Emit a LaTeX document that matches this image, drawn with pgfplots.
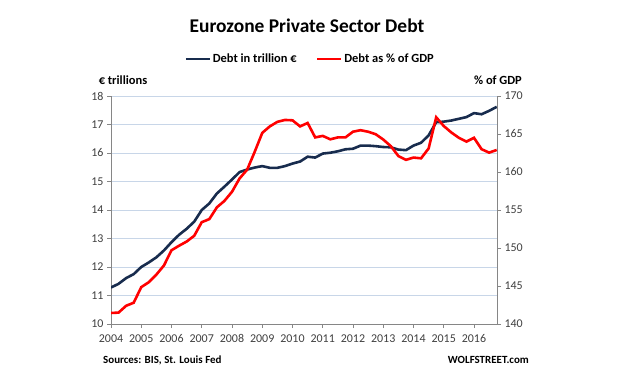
\documentclass[border=0pt]{standalone}
\usepackage{pgfplots}
\pgfplotsset{compat=1.18}
\usepackage{fontspec}
\setmainfont{Carlito}
\definecolor{navy}{RGB}{24,44,78}
\definecolor{gridc}{RGB}{200,214,232}
\definecolor{axc}{RGB}{134,134,134}
\definecolor{tickc}{RGB}{64,64,64}
\begin{document}
\begin{tikzpicture}
\path[use as bounding box] (0,0) rectangle (618bp,371bp);
\pgfplotsset{
 base/.style={
  scale only axis, width=386bp, height=228bp,
  at={(111bp,47bp)}, anchor=south west,
  xmin=2004, xmax=2016.76,
  axis line style={draw=axc, line width=0.8bp},
  tick style={draw=axc, line width=0.8bp},
  major tick length=4bp,
  tick align=outside,
  tick label style={font=\fontsize{12}{14}\selectfont, text=tickc},
  /pgf/number format/assume math mode=true,
  /pgf/number format/1000 sep={},
 }
}
\begin{axis}[base,
  axis x line*=bottom, axis y line*=left,
  ymin=10, ymax=18, ytick={10,...,18},
  xtick={2004,...,2016},
  ymajorgrids, grid style={draw=gridc, line width=0.9bp},
  xticklabel style={yshift=-3bp},
]
\addplot[navy, line width=2.6bp] coordinates {
(2004.00,11.28)(2004.25,11.41)(2004.50,11.61)(2004.75,11.75)
(2005.00,12.00)(2005.25,12.16)(2005.50,12.34)(2005.75,12.58)
(2006.00,12.87)(2006.25,13.13)(2006.50,13.34)(2006.75,13.59)
(2007.00,14.00)(2007.25,14.23)(2007.50,14.58)(2007.75,14.82)
(2008.00,15.07)(2008.25,15.33)(2008.50,15.42)(2008.75,15.49)
(2009.00,15.54)(2009.25,15.48)(2009.50,15.48)(2009.75,15.54)
(2010.00,15.63)(2010.25,15.70)(2010.50,15.87)(2010.75,15.84)
(2011.00,15.98)(2011.25,16.01)(2011.50,16.06)(2011.75,16.13)
(2012.00,16.15)(2012.25,16.26)(2012.50,16.26)(2012.75,16.24)
(2013.00,16.21)(2013.25,16.20)(2013.50,16.12)(2013.75,16.10)
(2014.00,16.26)(2014.25,16.36)(2014.50,16.62)(2014.75,17.08)
(2015.00,17.10)(2015.25,17.14)(2015.50,17.20)(2015.75,17.26)
(2016.00,17.40)(2016.25,17.36)(2016.50,17.48)(2016.75,17.62)
};
\end{axis}
\begin{axis}[base,
  axis x line=none, axis y line*=right,
  ymin=140, ymax=170, ytick={140,145,...,170},
  legend columns=2,
  legend style={draw=none, fill=none, at={(0.5,1)}, anchor=center,
    yshift=37bp, xshift=6bp, font=\bfseries\fontsize{12.5}{14}\selectfont,
    nodes={inner sep=1.5bp},
    /tikz/every even column/.append style={column sep=18bp}},
  legend image code/.code={\draw[#1] (0bp,0bp) -- (24bp,0bp);},
]
\addlegendimage{navy, line width=2.6bp}
\addlegendentry{Debt in trillion €}
\addplot[red, line width=2.6bp] coordinates {
(2004.00,141.45)(2004.25,141.5)(2004.50,142.4)(2004.75,142.8)
(2005.00,144.85)(2005.25,145.5)(2005.50,146.5)(2005.75,147.7)
(2006.00,149.7)(2006.25,150.3)(2006.50,150.85)(2006.75,151.6)
(2007.00,153.4)(2007.25,153.8)(2007.50,155.35)(2007.75,156.2)
(2008.00,157.4)(2008.25,159.15)(2008.50,160.3)(2008.75,162.65)
(2009.00,165.15)(2009.25,166.0)(2009.50,166.6)(2009.75,166.85)
(2010.00,166.8)(2010.25,166.0)(2010.50,166.45)(2010.75,164.55)
(2011.00,164.75)(2011.25,164.3)(2011.50,164.55)(2011.75,164.55)
(2012.00,165.3)(2012.25,165.5)(2012.50,165.3)(2012.75,164.97)
(2013.00,164.27)(2013.25,163.4)(2013.50,162.1)(2013.75,161.6)
(2014.00,161.9)(2014.25,161.8)(2014.50,163.1)(2014.75,167.2)
(2015.00,166.05)(2015.25,165.2)(2015.50,164.5)(2015.75,164.0)
(2016.00,164.5)(2016.25,163.0)(2016.50,162.55)(2016.75,162.9)
};
\addlegendentry{Debt as \% of GDP}
\end{axis}
\node[font=\bfseries\fontsize{19.5}{22}\selectfont, inner sep=0] at (307bp,345bp) {Eurozone Private Sector Debt};
\node[font=\bfseries\fontsize{12.5}{14}\selectfont, inner sep=0] at (123bp,291bp) {€ trillions};
\node[font=\bfseries\fontsize{12.5}{14}\selectfont, inner sep=0] at (498bp,291bp) {\% of GDP};
\node[font=\bfseries\fontsize{11}{13}\selectfont, inner sep=0, anchor=west] at (103bp,11bp) {Sources: BIS, St. Louis Fed};
\node[font=\bfseries\fontsize{11}{13}\selectfont, inner sep=0, anchor=east] at (529bp,11bp) {WOLFSTREET.com};
\end{tikzpicture}
\end{document}
